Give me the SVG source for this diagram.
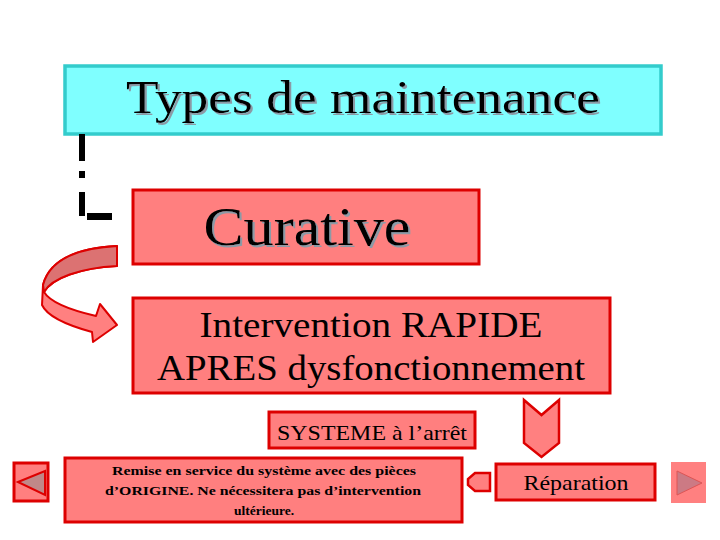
<svg xmlns="http://www.w3.org/2000/svg" width="720" height="540" viewBox="0 0 720 540">
<defs>
<style>
.pink{fill:#ff0000;fill-opacity:0.5;stroke:#dd0000;stroke-width:3}
.cyan{fill:#00ffff;fill-opacity:0.5;stroke:#33cccc;stroke-width:3.5}
text{font-family:'Liberation Serif','Times New Roman','DejaVu Serif',serif;fill:#000}
.dash{fill:#000}
</style>
<filter id="shadow" x="-5%" y="-10%" width="110%" height="130%">
<feDropShadow dx="2" dy="2" stdDeviation="0.4" flood-color="#8c9aa6" flood-opacity="1"/>
</filter>
</defs>
<rect width="720" height="540" fill="#fff"/>

<g id="title">
<rect class="cyan" x="65" y="66" width="596" height="68"/>
<text x="363" y="113" font-family="Liberation Serif, serif" font-size="46" text-anchor="middle" textLength="474" lengthAdjust="spacingAndGlyphs" filter="url(#shadow)">Types de maintenance</text>
</g>

<g id="curative">
<rect class="pink" x="133" y="190" width="346" height="74"/>
<text x="307" y="245" font-family="Liberation Serif, serif" font-size="54" text-anchor="middle" textLength="207" lengthAdjust="spacingAndGlyphs" filter="url(#shadow)">Curative</text>
</g>

<g id="intervention">
<rect class="pink" x="133" y="298" width="477" height="95"/>
<text x="371" y="337" font-family="Liberation Serif, serif" font-size="35" text-anchor="middle" textLength="343" lengthAdjust="spacingAndGlyphs">Intervention RAPIDE</text>
<text x="371" y="380" font-family="Liberation Serif, serif" font-size="35" text-anchor="middle" textLength="428" lengthAdjust="spacingAndGlyphs">APRES dysfonctionnement</text>
</g>

<g id="systeme">
<rect class="pink" x="269" y="412" width="206" height="36"/>
<text x="372" y="440" font-family="Liberation Serif, serif" font-size="22" text-anchor="middle" textLength="190" lengthAdjust="spacingAndGlyphs">SYSTEME à l’arrêt</text>
</g>

<g id="remise">
<rect class="pink" x="65" y="458" width="397" height="64"/>
<text x="264" y="475" font-family="Liberation Serif, serif" font-size="13.5" font-weight="bold" text-anchor="middle" textLength="304" lengthAdjust="spacingAndGlyphs">Remise en service du système avec des pièces</text>
<text x="263" y="495" font-family="Liberation Serif, serif" font-size="13.5" font-weight="bold" text-anchor="middle" textLength="316" lengthAdjust="spacingAndGlyphs">d’ORIGINE. Ne nécessitera pas d’intervention</text>
<text x="264" y="515" font-family="Liberation Serif, serif" font-size="13.5" font-weight="bold" text-anchor="middle">ultérieure.</text>
</g>

<g id="reparation">
<rect class="pink" x="496" y="464" width="159" height="36"/>
<text x="576" y="490" font-family="Liberation Serif, serif" font-size="22" text-anchor="middle" textLength="105" lengthAdjust="spacingAndGlyphs">Réparation</text>
</g>

<g id="nav-prev">
<rect class="pink" x="14" y="463" width="34" height="38" stroke-width="2.5"/>
<polygon points="18,482 45,471 45,495" fill="#c08888" stroke="#dd0000" stroke-width="2"/>
</g>

<g id="nav-next">
<rect x="671" y="462" width="35" height="41" fill="#ff8080"/>
<polygon points="677,471 702,483 677,495" fill="#cc7a84" stroke="#dd5555" stroke-width="1"/>
</g>

<g id="connectors">
<rect class="dash" x="79" y="134" width="6" height="27"/>
<rect class="dash" x="79" y="171" width="6" height="7"/>
<rect class="dash" x="79" y="192" width="6" height="24"/>
<rect class="dash" x="87" y="213" width="25" height="7"/>
<path d="M117,246 C80,248 50,258 43,285 L42,305 C48,318 70,326 92,332 L93,342 L117,325 L100,304 L96,316 C70,310 50,302 44,292 C52,278 80,268 117,266 Z" fill="#ff8080" stroke="#dd0000" stroke-width="2" stroke-linejoin="round"/>
<path d="M117,246 C80,248 50,258 43,285 L44,292 C52,278 80,268 117,266 Z" fill="#dc7272" stroke="#dd0000" stroke-width="2" stroke-linejoin="round"/>
<polygon points="524,400 541.5,415 559,400 559,443 541.5,457 524,443" fill="#ff8080" stroke="#dd0000" stroke-width="2.5"/>
<polygon points="475,473 490,473 490,491 475,491 468,485 468,479" fill="#ff8080" stroke="#dd0000" stroke-width="2.5"/>
</g>
</svg>
